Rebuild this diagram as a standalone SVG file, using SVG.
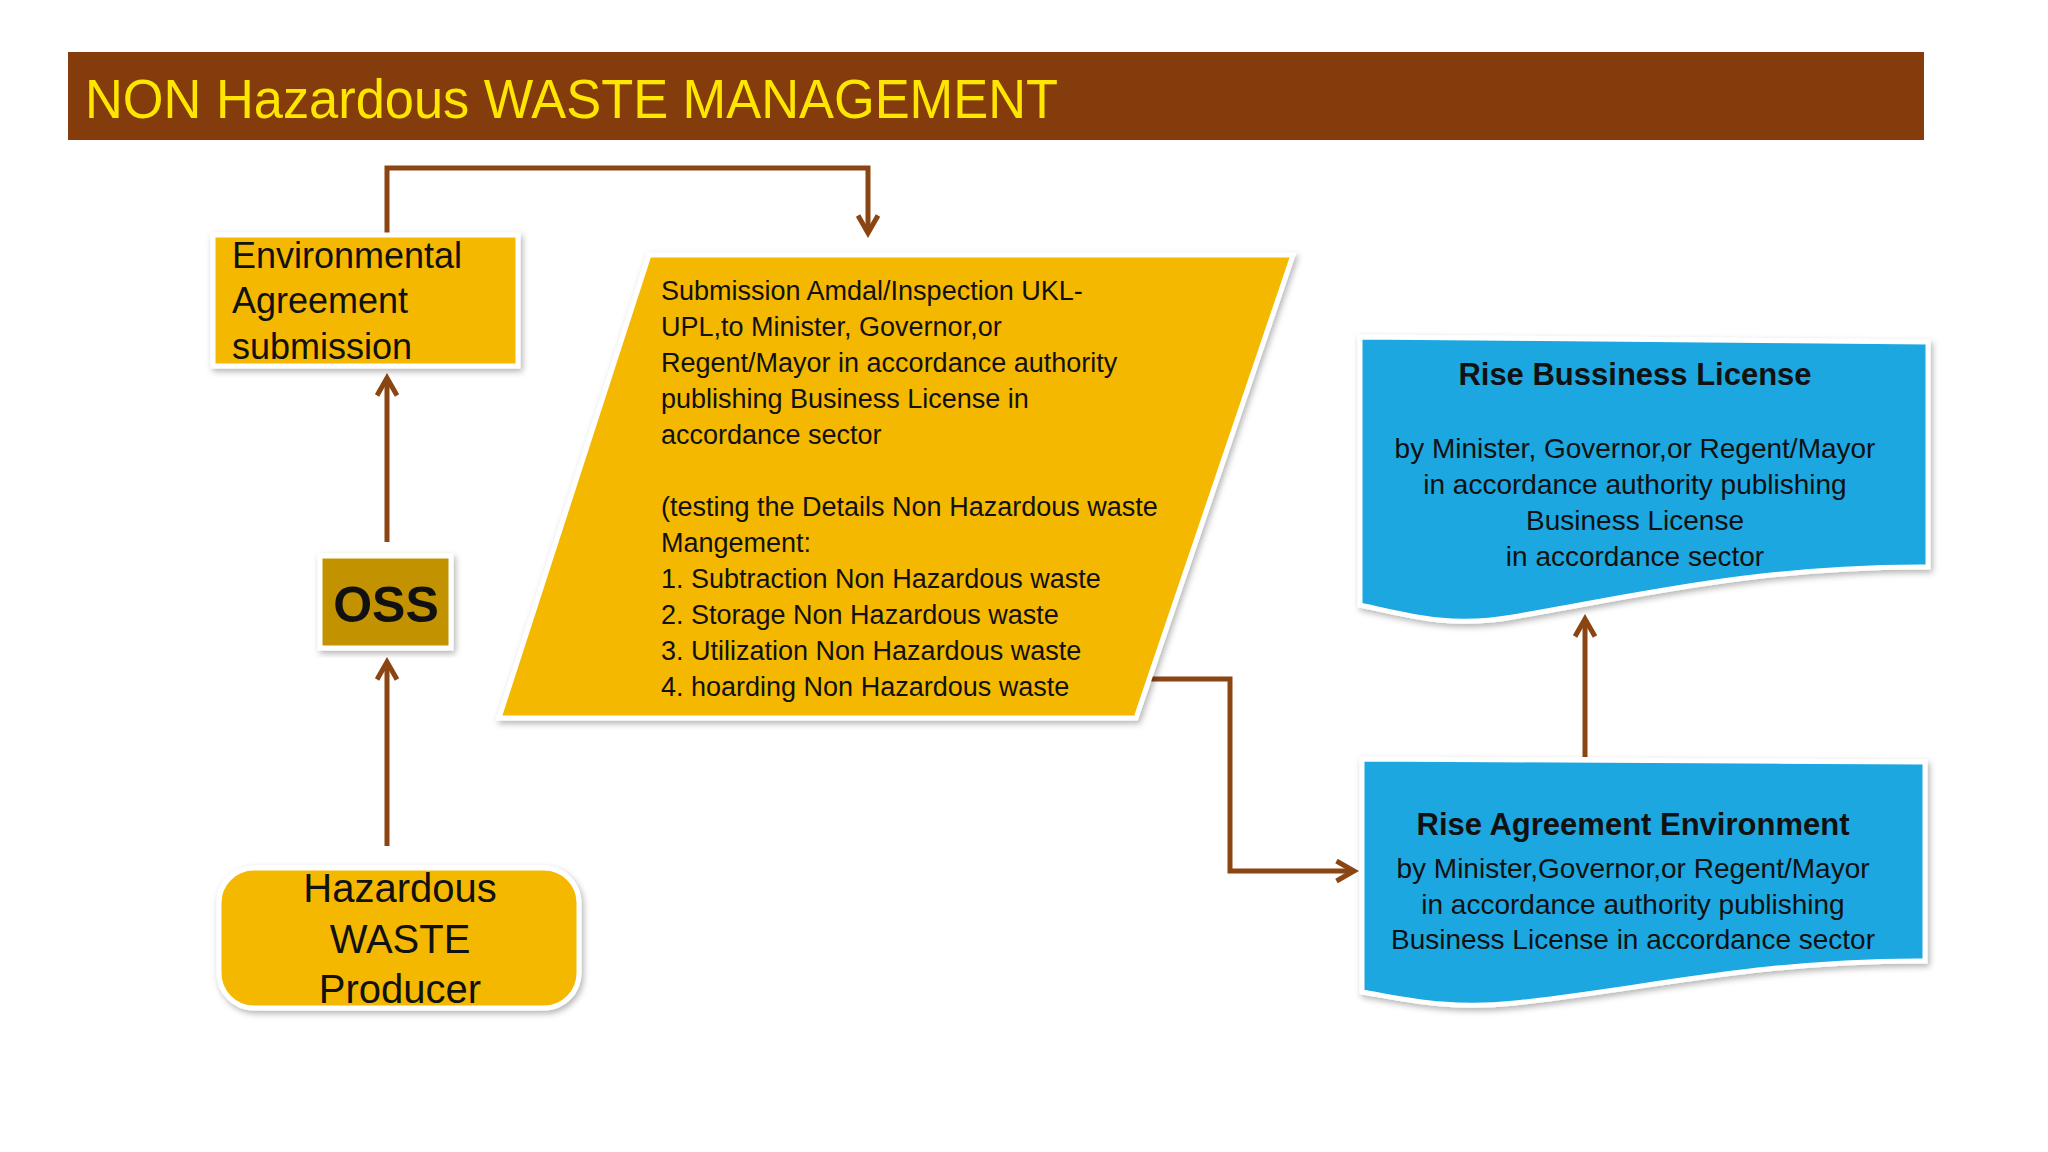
<svg xmlns="http://www.w3.org/2000/svg" width="2048" height="1152" viewBox="0 0 2048 1152">
<defs>
<style>
.t{font-family:"Liberation Sans Narrow","Liberation Sans",Arial,sans-serif;fill:#111}
.c{stroke:#8B4513;stroke-width:5;fill:none}
.y{fill:#F5B800;stroke:#fff;stroke-width:5}
.b{fill:#1AA7E0;stroke:#fff;stroke-width:5}
</style>
<marker id="ah" viewBox="0 0 10 10" refX="8" refY="5" markerWidth="5" markerHeight="5" orient="auto"><path d="M1,1 L8,5 L1,9" fill="none" stroke="#8B4513" stroke-width="2"/></marker>
<filter id="sh"><feDropShadow dx="2" dy="3" stdDeviation="3" flood-opacity="0.3"/></filter>
</defs>
<rect width="2048" height="1152" fill="#fff"/>
<g id="title"><rect x="68" y="52" width="1856" height="88" fill="#843C0C"/>
<text x="85" y="118" font-family="Liberation Sans Narrow,Liberation Sans,sans-serif" font-size="56" fill="#FFE600" textLength="973" lengthAdjust="spacingAndGlyphs">NON Hazardous WASTE MANAGEMENT</text></g>
<g id="connectors">
<path class="c" d="M387,846 V662" marker-end="url(#ah)"/>
<path class="c" d="M387,542 V378" marker-end="url(#ah)"/>
<path class="c" d="M387,235 V168 H868 V233" marker-end="url(#ah)"/>
<path class="c" d="M1104,679 H1230 V871 H1354" marker-end="url(#ah)"/>
<path class="c" d="M1585,757 V619" marker-end="url(#ah)"/>
</g>
<g id="env"><rect class="y" x="213" y="235" width="305" height="131" filter="url(#sh)"/>
<text class="t" font-size="36" x="232"><tspan y="268">Environmental</tspan><tspan x="232" y="313">Agreement</tspan><tspan x="232" y="359">submission</tspan></text></g>
<g id="oss"><rect x="320" y="556" width="131" height="92" fill="#C39200" stroke="#fff" stroke-width="5" filter="url(#sh)"/>
<text class="t" font-size="50" font-weight="bold" x="386" y="622" text-anchor="middle">OSS</text></g>
<g id="producer"><rect class="y" x="219" y="868" width="360" height="140" rx="35" filter="url(#sh)"/>
<text class="t" font-size="40" text-anchor="middle"><tspan x="400" y="902">Hazardous</tspan><tspan x="400" y="953">WASTE</tspan><tspan x="400" y="1003">Producer</tspan></text></g>
<g id="submission"><polygon class="y" points="649,255 1293,255 1136,718 499,718" filter="url(#sh)"/>
<text class="t" font-size="27" x="661"><tspan x="661" y="300">Submission Amdal/Inspection UKL-</tspan><tspan x="661" y="336">UPL,to Minister, Governor,or</tspan><tspan x="661" y="372">Regent/Mayor in accordance authority</tspan><tspan x="661" y="408">publishing Business License in</tspan><tspan x="661" y="444">accordance sector</tspan><tspan x="661" y="516">(testing the Details Non Hazardous waste</tspan><tspan x="661" y="552">Mangement:</tspan><tspan x="661" y="588">1.  Subtraction Non Hazardous waste</tspan><tspan x="661" y="624">2.  Storage Non Hazardous waste</tspan><tspan x="661" y="660">3.  Utilization Non Hazardous waste</tspan><tspan x="661" y="696">4.  hoarding Non Hazardous waste</tspan></text></g>
<g id="business"><path class="b" filter="url(#sh)" d="M1360,337 L1928,342 L1928,567 C1760,566 1640,595 1513,617 C1450,628 1410,616 1360,605 Z"/>
<text class="t" font-size="31" font-weight="bold" x="1635" y="385" text-anchor="middle">Rise Bussiness License</text>
<text class="t" font-size="28" text-anchor="middle"><tspan x="1635" y="458">by Minister, Governor,or Regent/Mayor</tspan><tspan x="1635" y="494">in accordance authority publishing</tspan><tspan x="1635" y="530">Business License</tspan><tspan x="1635" y="566">in accordance sector</tspan></text></g>
<g id="agreement"><path class="b" filter="url(#sh)" d="M1362,759 L1925,762 L1925,961 C1760,960 1640,990 1515,1003 C1450,1010 1410,1000 1362,992 Z"/>
<text class="t" font-size="31" font-weight="bold" x="1633" y="835" text-anchor="middle">Rise Agreement Environment</text>
<text class="t" font-size="28" text-anchor="middle"><tspan x="1633" y="878">by Minister,Governor,or Regent/Mayor</tspan><tspan x="1633" y="914">in accordance authority publishing</tspan><tspan x="1633" y="949">Business License in accordance sector</tspan></text></g>
</svg>
